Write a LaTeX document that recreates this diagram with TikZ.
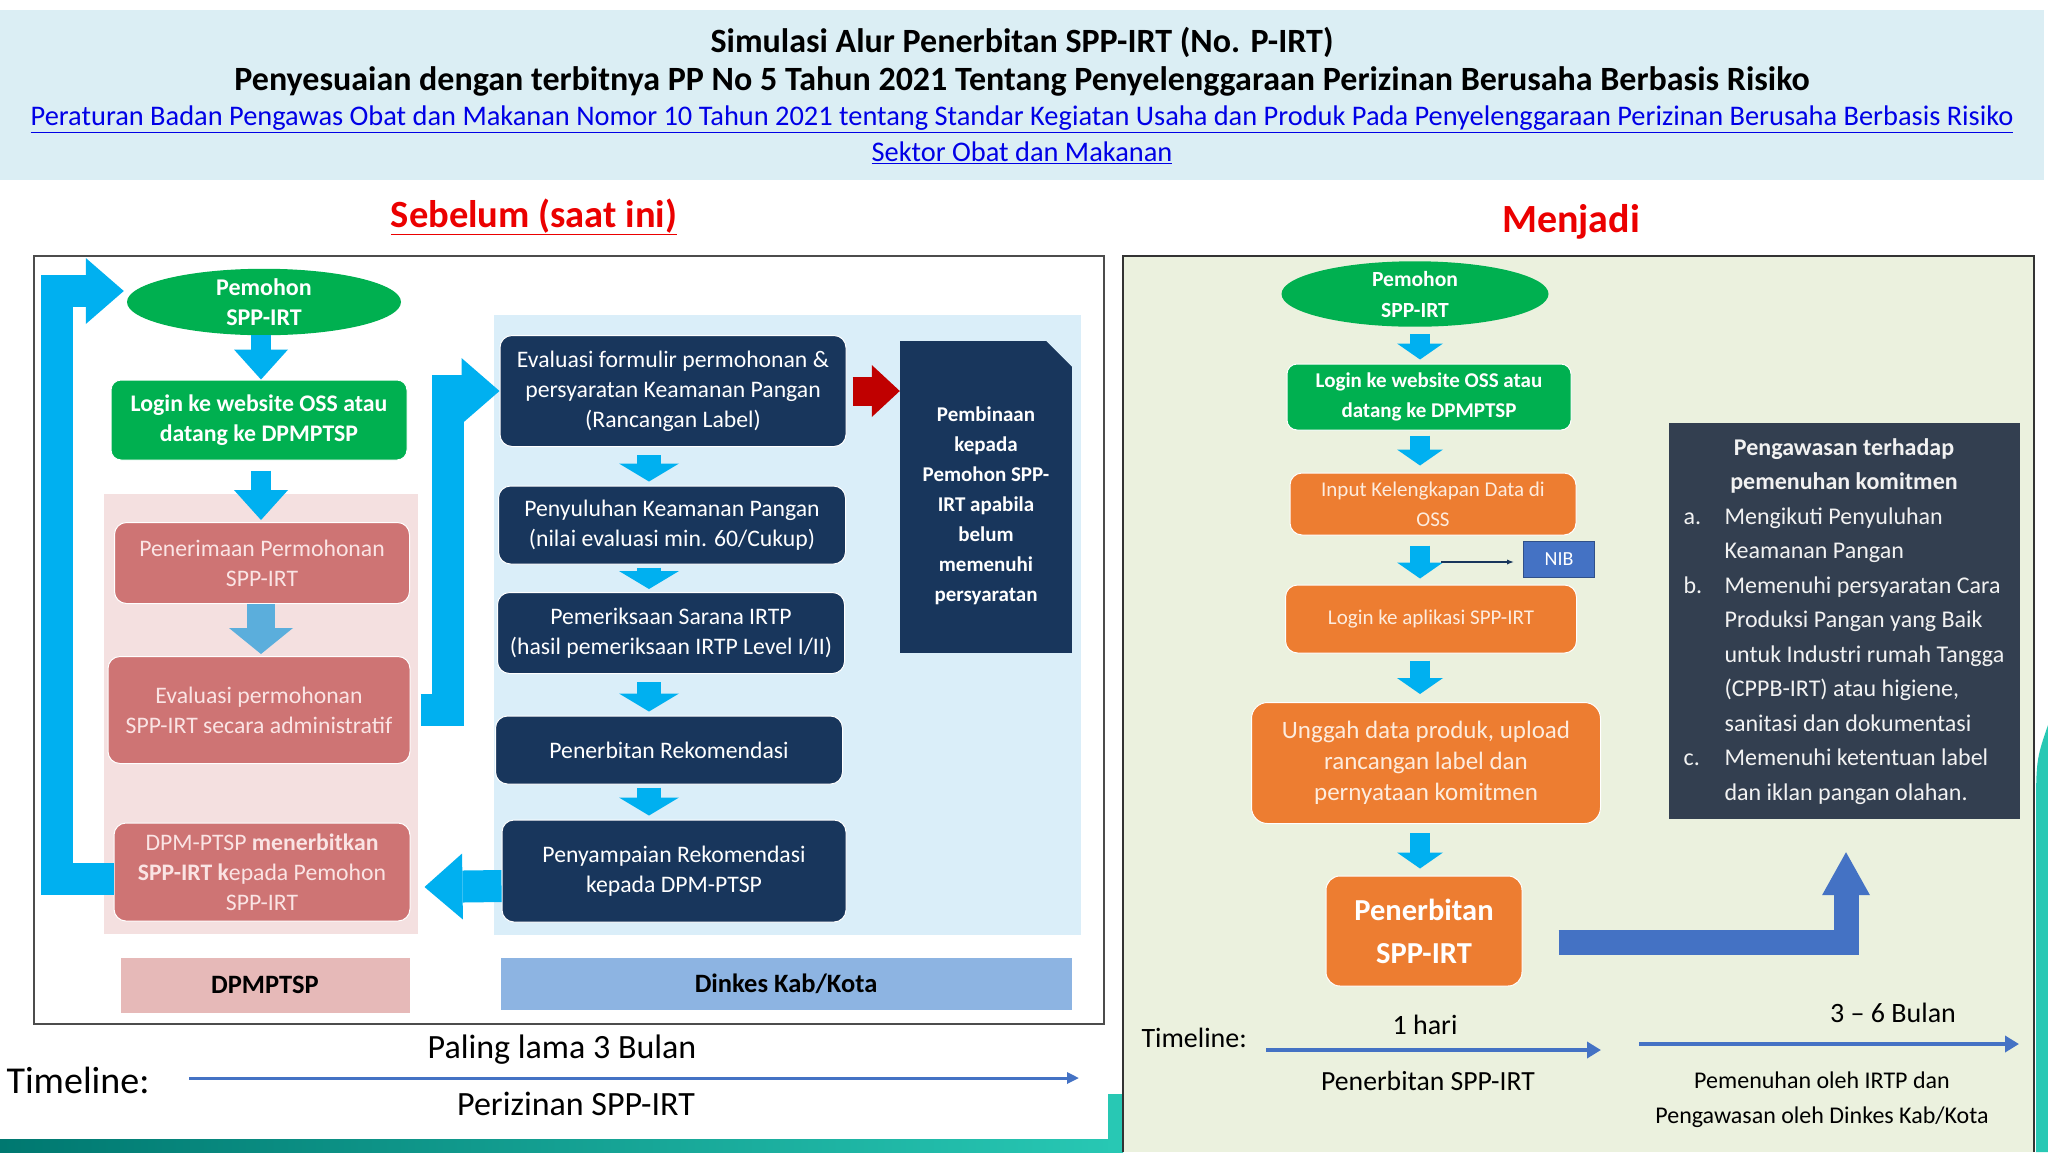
\documentclass[tikz,border=0pt]{standalone}
\usepackage{fontspec}
\setmainfont{Carlito}
\usetikzlibrary{arrows.meta,positioning,calc,shapes.geometric}

\definecolor{hdrbg}{RGB}{219,238,244}
\definecolor{linkblue}{RGB}{0,0,230}
\definecolor{titlered}{RGB}{235,0,0}
\definecolor{arrcyan}{RGB}{0,176,240}
\definecolor{arrsoft}{RGB}{91,174,220}
\definecolor{okgreen}{RGB}{0,176,80}
\definecolor{rosebox}{RGB}{206,116,116}
\definecolor{rosetxt}{RGB}{250,228,228}
\definecolor{pinkbg}{RGB}{244,224,224}
\definecolor{pinklab}{RGB}{230,185,184}
\definecolor{dkbg}{RGB}{218,238,249}
\definecolor{dklab}{RGB}{141,180,226}
\definecolor{navy}{RGB}{24,54,92}
\definecolor{warnred}{RGB}{192,0,0}
\definecolor{newbg}{RGB}{235,241,222}
\definecolor{orangebox}{RGB}{237,125,49}
\definecolor{oratxt}{RGB}{253,236,222}
\definecolor{nibblue}{RGB}{68,114,196}
\definecolor{slate}{RGB}{51,63,80}
\definecolor{tlblue}{RGB}{68,114,196}
\definecolor{teal1}{RGB}{0,120,112}
\definecolor{teal2}{RGB}{40,200,180}

\newcommand\fsz[2]{\fontsize{#1}{#2}\selectfont}

\begin{document}
\begin{tikzpicture}[x=1pt, y=-1pt,
    box/.style={rounded corners=10pt, align=center, inner sep=0pt, draw=white, line width=1pt},
    greenbox/.style={box, fill=okgreen, text=white, font=\bfseries\fsz{23.8}{30}},
    rosebx/.style={box, rounded corners=12pt, fill=rosebox, text=rosetxt, font=\fsz{23.7}{30}},
    navybox/.style={box, rounded corners=12pt, fill=navy, text=white, font=\fsz{23.7}{30}},
    orbox/.style={box, rounded corners=12pt, fill=orangebox, text=oratxt, font=\fsz{21}{30}},
    unitlab/.style={inner sep=0pt, draw=white, line width=1pt, font=\bfseries\fsz{26.5}{30}},
    pemohon/.style={ellipse, fill=okgreen, inner sep=0pt, text=white, align=center},
    dnL/.style={draw=arrcyan, line width=20pt, -{Triangle[length=30pt,width=54pt,line width=0pt]}},
    dnS/.style={draw=arrsoft, line width=28pt, -{Triangle[length=26pt,width=64pt,line width=0pt]}},
    dnN/.style={draw=arrcyan, line width=24pt, -{Triangle[length=18pt,width=60pt,line width=0pt]}},
    dnR/.style={draw=arrcyan, line width=20pt, -{Triangle[length=16pt,width=46pt,line width=0pt]}},
    bigarr/.style={draw=arrcyan, line width=32pt, -{Triangle[length=38pt,width=66pt,line width=0pt]}},
    redarr/.style={draw=warnred, line width=29pt, -{Triangle[length=28pt,width=52pt,line width=0pt]}},
    bendarr/.style={draw=nibblue, line width=25pt, -{Triangle[length=43pt,width=48pt,line width=0pt]}},
    tlarr/.style={draw=tlblue, line width=3pt, -{Triangle[length=12pt,width=11pt]}},
    tlarrR/.style={draw=tlblue, line width=4pt, -{Triangle[length=14pt,width=16pt]}}
]
\useasboundingbox (0,0) rectangle (2048,1152);
\fill[white] (0,0) rectangle (2048,1152);

% header
\fill[hdrbg] (0,10) rectangle (2044,180);
\node[font=\bfseries\fsz{34}{40}] (t1) at (1022,42) {Simulasi Alur Penerbitan SPP-IRT (No. P-IRT)};
\node[font=\bfseries\fsz{34}{40}] (t2) at (1022,81) {Penyesuaian dengan terbitnya PP No 5 Tahun 2021 Tentang Penyelenggaraan Perizinan Berusaha Berbasis Risiko};
\node[font=\fsz{28.4}{32}, text=linkblue] (t3) at (1022,119) {\underline{Peraturan Badan Pengawas Obat dan Makanan Nomor 10 Tahun 2021 tentang Standar Kegiatan Usaha dan Produk Pada Penyelenggaraan Perizinan Berusaha Berbasis Risiko}};
\node[font=\fsz{28.4}{32}, text=linkblue] (t4) at (1022,153) {\underline{Sektor Obat dan Makanan}};

\node[font=\bfseries\fsz{38.5}{44}, text=titlered] (sblm) at (534,217) {\underline{Sebelum (saat ini)}};
\node[font=\bfseries\fsz{40}{46}, text=titlered] (mnjd) at (1571,222) {Menjadi};

% slide decoration
\shade[left color=teal1, right color=teal2] (0,1139) rectangle (1123,1152);
\fill[teal2] (1108,1094) rectangle (1123,1152);
\fill[teal2] (2048,725) .. controls (2036,760) .. (2036,820) -- (2036,1152) -- (2048,1152) -- cycle;

% ---- sebelum ----
\draw[black!70, line width=1.2pt] (34,256) rectangle (1104,1024);
\fill[pinkbg] (104,494) rectangle (418,934);
\fill[dkbg] (494,315) rectangle (1081,935);

\node[pemohon, minimum width=274pt, minimum height=64pt, font=\bfseries\fsz{24}{30}] (lpem) at (264,302) {Pemohon\\SPP-IRT};
\node[greenbox, minimum width=296pt, minimum height=80pt] (llog) at (259,420) {Login ke website OSS atau\\datang ke DPMPTSP};
\node[rosebx, minimum width=295pt, minimum height=81pt] (lter) at (262,563) {Penerimaan Permohonan\\SPP-IRT};
\node[rosebx, minimum width=302pt, minimum height=107pt] (leva) at (259,710) {Evaluasi permohonan\\SPP-IRT secara administratif};
\node[rosebx, minimum width=296pt, minimum height=98pt] (lbit) at (262,872) {DPM-PTSP \textbf{menerbitkan}\\\textbf{SPP-IRT k}epada Pemohon\\SPP-IRT};

\node[navybox, minimum width=346pt, minimum height=111pt] (n1) at (673,391) {Evaluasi formulir permohonan \&\\persyaratan Keamanan Pangan\\(Rancangan Label)};
\node[navybox, minimum width=347pt, minimum height=78pt] (n2) at (672,525) {Penyuluhan Keamanan Pangan\\(nilai evaluasi min. 60/Cukup)};
\node[navybox, minimum width=347pt, minimum height=81pt] (n3) at (671,633) {Pemeriksaan Sarana IRTP\\(hasil pemeriksaan IRTP Level I/II)};
\node[navybox, minimum width=347pt, minimum height=68pt] (n4) at (669,750) {Penerbitan Rekomendasi};
\node[navybox, minimum width=344pt, minimum height=102pt] (n5) at (674,871) {Penyampaian Rekomendasi\\kepada DPM-PTSP};

\node[fill=navy, inner sep=0pt, minimum width=172pt, minimum height=312pt] (pb) at (986,497) {};
\fill[dkbg] (pb.north east) -- ++(-26,0) -- ++(26,26) -- cycle;
\node[text=white, align=center, font=\bfseries\fsz{21}{30}] (pbt) at (986,506) {Pembinaan\\kepada\\Pemohon SPP-\\IRT apabila\\belum\\memenuhi\\persyaratan};

\node[unitlab, fill=pinklab, minimum width=290pt, minimum height=56pt] (ldpm) at (265,985) {DPMPTSP};
\node[unitlab, fill=dklab, minimum width=572pt, minimum height=53pt] (ldk) at (786,984) {Dinkes Kab/Kota};

% arrows sebelum
\coordinate (lx) at (261,0);
\coordinate (nx) at (649,0);
\draw[dnL] (lpem.south -| lx) -- (llog.north -| lx);
\draw[dnL, shorten <=10pt, shorten >=2pt] (llog.south -| lx) -- (lter.north -| lx);
\draw[dnS, shorten >=2pt] (lter.south -| lx) -- (leva.north -| lx);
\draw[dnN, shorten <=8pt, shorten >=4pt] (n1.south -| nx) -- (n2.north -| nx);
\draw[dnN, shorten <=3pt, shorten >=3pt] (n2.south -| nx) -- (n3.north -| nx);
\draw[dnN, shorten <=8pt, shorten >=4pt] (n3.south -| nx) -- (n4.north -| nx);
\draw[dnN, shorten <=3pt, shorten >=4pt] (n4.south -| nx) -- (n5.north -| nx);

\draw[bigarr, shorten >=3pt] ($(lbit.west)+(0,7)$) -- ++(-57,0) |- ($(lpem.west)+(0,-11)$);
\draw[bigarr] ($(leva.east)+(10,0)$) -- ++(27,0) |- (n1.west);
\draw[bigarr] ($(n5.west)+(0,15)$) -- ($(lbit.east)+(14,15)$);
\draw[redarr] ($(n1.east)+(6,0)$) -- (pb.west |- n1.east);

% timeline sebelum
\node[anchor=west, font=\fsz{38}{44}] (tll) at (3,1080) {Timeline:};
\coordinate (tla) at (189,1078);
\coordinate (tlb) at (1079,1078);
\draw[tlarr] (tla) -- (tlb);
\node[font=\fsz{34}{40}] (tlp) at (562,1050) {Paling lama 3 Bulan};
\node[font=\fsz{34}{40}] (tlq) at (576,1104) {Perizinan SPP-IRT};

% ---- menjadi ----
\fill[newbg] (1123,256) rectangle (2034,1152);
\draw[black!80, line width=1.5pt] (1123,1152) -- (1123,256) -- (2034,256) -- (2034,1152);

\node[pemohon, minimum width=267pt, minimum height=55pt, font=\bfseries\fsz{21.6}{31}] (rpem) at (1415,294) {Pemohon\\SPP-IRT};
\node[greenbox, font=\bfseries\fsz{21}{30}, minimum width=284pt, minimum height=66pt] (rlog) at (1429,397) {Login ke website OSS atau\\datang ke DPMPTSP};
\node[orbox, minimum width=286pt, minimum height=62pt] (rin) at (1433,504) {Input Kelengkapan Data di\\OSS};
\node[fill=nibblue, draw=nibblue!70!black, line width=1pt, minimum width=71pt, minimum height=36pt, inner sep=0pt, text=white, font=\fsz{20}{24}] (rnib) at (1559,559) {NIB};
\node[orbox, minimum width=291pt, minimum height=68pt] (rapp) at (1431,619) {Login ke aplikasi SPP-IRT};
\node[orbox, rounded corners=16pt, minimum width=349pt, minimum height=121pt, font=\fsz{25}{31}] (rupl) at (1426,763) {Unggah data produk, upload\\rancangan label dan\\pernyataan komitmen};
\node[orbox, rounded corners=14pt, minimum width=196pt, minimum height=110pt, text=white, font=\bfseries\fsz{30.5}{43}] (rbit) at (1424,931) {Penerbitan\\SPP-IRT};

\node[fill=slate, inner sep=0pt, minimum width=351pt, minimum height=396pt, text=white!95!black, font=\fsz{24}{34.5}] (pw) at (1844,621) {%
\begin{tabular}{@{}p{41pt}@{}l@{}}
\multicolumn{2}{@{}c@{}}{\textbf{Pengawasan terhadap}}\\
\multicolumn{2}{@{}c@{}}{\textbf{pemenuhan komitmen}}\\
a. & Mengikuti Penyuluhan\\
   & Keamanan Pangan\\
b. & Memenuhi persyaratan Cara\\
   & Produksi Pangan yang Baik\\
   & untuk Industri rumah Tangga\\
   & (CPPB-IRT) atau higiene,\\
   & sanitasi dan dokumentasi\\
c. & Memenuhi ketentuan label\\
   & dan iklan pangan olahan.
\end{tabular}};

% arrows menjadi
\coordinate (rx) at (1420,0);
\draw[dnR, shorten <=7pt, shorten >=4pt] (rpem.south -| rx) -- (rlog.north -| rx);
\draw[dnR, shorten <=5pt, shorten >=7pt] (rlog.south -| rx) -- (rin.north -| rx);
\draw[dnR, shorten <=10pt, shorten >=6pt] (rin.south -| rx) -- (rapp.north -| rx);
\draw[dnR, shorten <=7pt, shorten >=8pt] (rapp.south -| rx) -- (rupl.north -| rx);
\draw[dnR, shorten <=9pt, shorten >=7pt] (rupl.south -| rx) -- (rbit.north -| rx);
\draw[navy, line width=2pt, -{Latex[length=7pt]}] ($(rnib.west)+(-82,3)$) -- ($(rnib.west)+(-9,3)$);
\draw[bendarr] ($(rbit.east)+(36,11)$) -| ($(pw.south)+(2,33)$);

% timeline menjadi
\node[anchor=west, font=\fsz{28}{32}] (tlr) at (1138,1038) {Timeline:};
\coordinate (tra) at (1266,1050);
\coordinate (trb) at (1601,1050);
\coordinate (trc) at (1639,1044);
\coordinate (trd) at (2019,1044);
\draw[tlarrR] (tra) -- (trb);
\draw[tlarrR] (trc) -- (trd);
\node[font=\fsz{28}{32}] (tr1) at (1425,1025) {1 hari};
\node[font=\fsz{27.7}{32}] (tr2) at (1428,1081) {Penerbitan SPP-IRT};
\node[font=\fsz{28}{32}] (tr3) at (1893,1013) {3 -- 6 Bulan};
\node[align=center, font=\fsz{24}{35}] (tr4) at (1822,1100) {Pemenuhan oleh IRTP dan\\Pengawasan oleh Dinkes Kab/Kota};
\end{tikzpicture}
\end{document}
